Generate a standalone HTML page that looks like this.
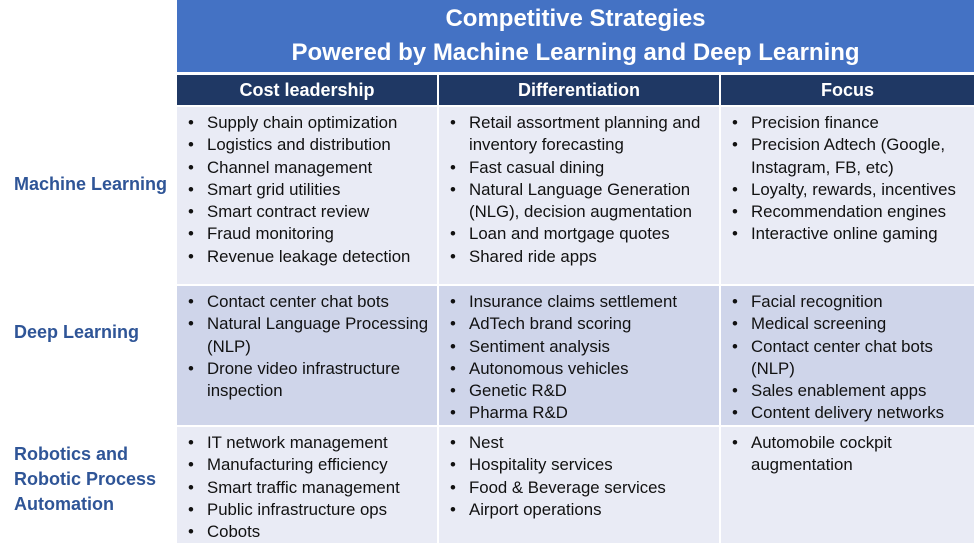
<!DOCTYPE html>
<html><head><style>
body{margin:0;width:974px;height:543px;background:#fff;position:relative;overflow:hidden;font-family:"Liberation Sans",Arial,sans-serif}
.a{position:absolute}
.top{left:177px;top:0;width:797px;height:72px;background:#4472c4;color:#fff;font-weight:bold;font-size:24px;text-align:center;line-height:34px;padding-top:2px;box-sizing:border-box}
.h{top:75px;height:30px;background:#1f3864;color:#fff;font-weight:bold;font-size:18px;text-align:center;line-height:30px}
.c{box-sizing:border-box;padding:5px 0 0 0;font-size:16.8px;color:#111;line-height:22.3px}
.c ul{margin:0;padding:0 0 0 30px}
.c li{list-style:none;position:relative}
.c li:before{content:"•";position:absolute;left:-19px}
.l1{background:#e9ebf5}.l2{background:#cfd5ea}
.lab{left:14px;color:#2f5597;font-weight:bold;font-size:18px;line-height:25px}
</style></head><body>
<div class="a top">Competitive Strategies<br>Powered by Machine Learning and Deep Learning</div>
<div class="a h" style="left:177px;width:260px">Cost leadership</div>
<div class="a h" style="left:439px;width:280px">Differentiation</div>
<div class="a h" style="left:721px;width:253px">Focus</div>

<div class="a c l1" style="left:177px;top:107px;width:260px;height:177px"><ul><li>Supply chain optimization</li><li>Logistics and distribution</li><li>Channel management</li><li>Smart grid utilities</li><li>Smart contract review</li><li>Fraud monitoring</li><li>Revenue leakage detection</li></ul></div>
<div class="a c l1" style="left:439px;top:107px;width:280px;height:177px"><ul><li>Retail assortment planning and inventory forecasting</li><li>Fast casual dining</li><li>Natural Language Generation (NLG), decision augmentation</li><li>Loan and mortgage quotes</li><li>Shared ride apps</li></ul></div>
<div class="a c l1" style="left:721px;top:107px;width:253px;height:177px"><ul><li>Precision finance</li><li>Precision Adtech (Google, Instagram, FB, etc)</li><li>Loyalty, rewards, incentives</li><li>Recommendation engines</li><li>Interactive online gaming</li></ul></div>

<div class="a c l2" style="left:177px;top:286px;width:260px;height:139px"><ul><li>Contact center chat bots</li><li>Natural Language Processing (NLP)</li><li>Drone video infrastructure inspection</li></ul></div>
<div class="a c l2" style="left:439px;top:286px;width:280px;height:139px"><ul><li>Insurance claims settlement</li><li>AdTech brand scoring</li><li>Sentiment analysis</li><li>Autonomous vehicles</li><li>Genetic R&amp;D</li><li>Pharma R&amp;D</li></ul></div>
<div class="a c l2" style="left:721px;top:286px;width:253px;height:139px"><ul><li>Facial recognition</li><li>Medical screening</li><li>Contact center chat bots (NLP)</li><li>Sales enablement apps</li><li>Content delivery networks</li></ul></div>

<div class="a c l1" style="left:177px;top:427px;width:260px;height:116px"><ul><li>IT network management</li><li>Manufacturing efficiency</li><li>Smart traffic management</li><li>Public infrastructure ops</li><li>Cobots</li></ul></div>
<div class="a c l1" style="left:439px;top:427px;width:280px;height:116px"><ul><li>Nest</li><li>Hospitality services</li><li>Food &amp; Beverage services</li><li>Airport operations</li></ul></div>
<div class="a c l1" style="left:721px;top:427px;width:253px;height:116px"><ul><li>Automobile cockpit augmentation</li></ul></div>

<div class="a lab" style="top:172px">Machine Learning</div>
<div class="a lab" style="top:320px">Deep Learning</div>
<div class="a lab" style="top:442px">Robotics and<br>Robotic Process<br>Automation</div>
</body></html>
